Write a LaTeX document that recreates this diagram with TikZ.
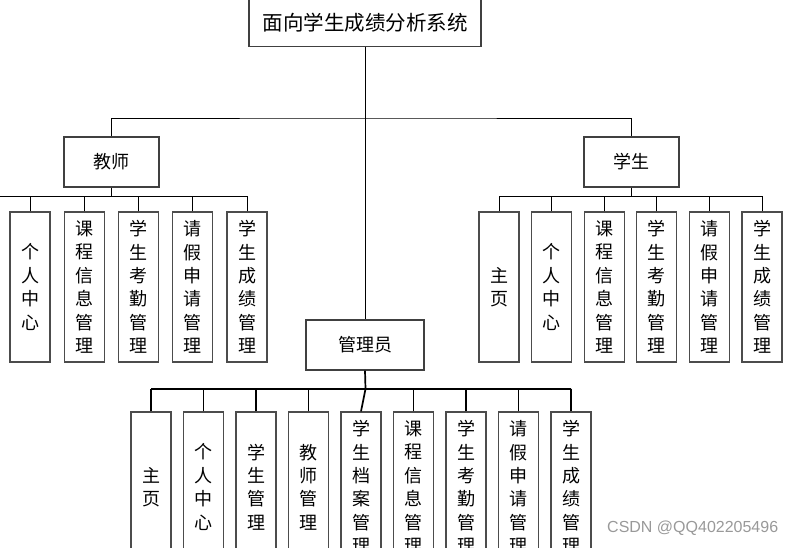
\documentclass[tikz,border=0pt]{standalone}
\usepackage{fontspec}
\newfontfamily\cjk{Noto Sans CJK SC}
\newfontfamily\wmfont{Liberation Sans}
\usepackage{tikz}

\tikzset{
  rootbox/.style={draw=black!75,line width=1.1pt,minimum width=232pt,minimum height=47.5pt,inner sep=0pt,font=\cjk\fontsize{20.5}{24}\selectfont},
  rolebox/.style={draw=black!75,line width=1.1pt,minimum width=95pt,minimum height=50pt,inner sep=0pt,font=\cjk\fontsize{18}{22}\selectfont},
  leafbox/.style={draw=black!70,line width=1.3pt,minimum width=40pt,minimum height=150pt,inner sep=0pt,align=center,font=\cjk\fontsize{18}{23.4}\selectfont},
  link/.style={draw=black,line width=1pt}
}

\begin{document}
\begin{tikzpicture}[x=1pt,y=-1pt]
  \useasboundingbox (0,0) rectangle (797,547);
  \node[rootbox] (root) at (365,22.5) {面向学生成绩分析系统};
  \node[rolebox] (teacher) at (111.5,162) {教师};
  \node[rolebox] (student) at (631.5,162) {学生};
  \node[rolebox,minimum width=118pt] (admin) at (365,345) {管理员};

  % teacher row
  \foreach \lab [count=\i] in {{个\\人\\中\\心},{课\\程\\信\\息\\管\\理},{学\\生\\考\\勤\\管\\理},{请\\假\\申\\请\\管\\理},{学\\生\\成\\绩\\管\\理}}
    \node[leafbox] (t\i) at ({30+54.25*(\i-1)},287) {\lab};
  % student row
  \foreach \lab [count=\i] in {{主\\页},{个\\人\\中\\心},{课\\程\\信\\息\\管\\理},{学\\生\\考\\勤\\管\\理},{请\\假\\申\\请\\管\\理},{学\\生\\成\\绩\\管\\理}}
    \node[leafbox] (s\i) at ({499+52.6*(\i-1)},287) {\lab};
  % admin row
  \foreach \lab [count=\i] in {{主\\页},{个\\人\\中\\心},{学\\生\\管\\理},{教\\师\\管\\理},{学\\生\\档\\案\\管\\理},{课\\程\\信\\息\\管\\理},{学\\生\\考\\勤\\管\\理},{请\\假\\申\\请\\管\\理},{学\\生\\成\\绩\\管\\理}}
    \node[leafbox] (a\i) at ({151+52.5*(\i-1)},487) {\lab};

  \coordinate (rbus) at (365,118);
  \coordinate (tbus) at (111.5,196);
  \coordinate (tleft) at (0,196);
  \coordinate (sbus) at (631.5,196);
  \coordinate (abus) at (365.5,389);

  \path[link]
    (root.south) -- (admin.north)
    (teacher.north) |- (rbus) -| (student.north)
    (teacher.south) -- (tbus)
    (tleft) -- (t5.north |- tbus)
    (student.south) -- (sbus)
    (s1.north |- sbus) -- (s6.north |- sbus);
  \foreach \i in {1,...,5}
    \draw[link] (t\i.north) -- (t\i.north |- tbus);
  \foreach \i in {1,...,6}
    \draw[link] (s\i.north) -- (s\i.north |- sbus);

  \path[link,line width=1.7pt]
    (admin.south) -- (abus)
    (a1.north |- abus) -- (a9.north |- abus)
    (abus) -- (a5.north);
  \foreach \i in {1,2,3,4,6,7,8,9}
    \draw[link,line width=1.7pt] (a\i.north) -- (a\i.north |- abus);

  \node[anchor=west,inner sep=0pt,text=black!40,font=\wmfont\fontsize{16}{18}\selectfont] (mark) at (607,528) {CSDN @QQ402205496};
\end{tikzpicture}
\end{document}
